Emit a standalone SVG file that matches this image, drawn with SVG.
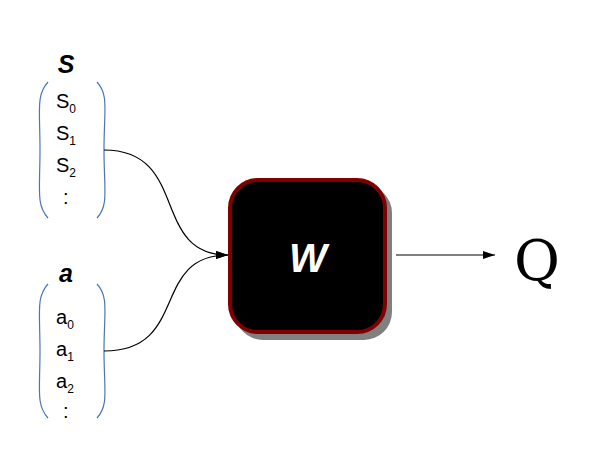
<svg xmlns="http://www.w3.org/2000/svg" width="604" height="451" viewBox="0 0 604 451">
<style>
.br{fill:none;stroke:#4a76b8;stroke-width:1.2}
.t{font-family:"Liberation Sans",sans-serif;font-size:20px;fill:#000}
.sub{font-size:12px}
.c{fill:none;stroke:#000;stroke-width:1.2}
</style>
<defs><marker id="ah" markerWidth="12" markerHeight="8" refX="12" refY="4" orient="auto" markerUnits="userSpaceOnUse"><path d="M0,0L12,4L0,8z" fill="#000"/></marker></defs>
<rect width="604" height="451" fill="#fff"/>
<g id="s">
<text x="66" y="73" text-anchor="middle" class="t" style="font-weight:bold;font-style:italic;font-size:25px">S</text>
<path class="br" d="M48,82 C36,95 40,110 40,150 C40,190 36,205 48,218"/>
<path class="br" d="M97,82 C109,95 104,110 104,150 C104,190 109,205 97,218"/>
<text class="t" x="56" y="108">S<tspan class="sub" dy="5">0</tspan></text>
<text class="t" x="56" y="140">S<tspan class="sub" dy="5">1</tspan></text>
<text class="t" x="56" y="172">S<tspan class="sub" dy="5">2</tspan></text>
<text class="t" x="63" y="204">:</text>
</g>
<g id="a">
<text x="66" y="282" text-anchor="middle" class="t" style="font-weight:bold;font-style:italic;font-size:25px">a</text>
<path class="br" d="M48,284 C36,297 40,312 40,351 C40,390 36,405 48,418"/>
<path class="br" d="M97,284 C109,297 104,312 104,351 C104,390 109,405 97,418"/>
<text class="t" x="56" y="324">a<tspan class="sub" dy="5">0</tspan></text>
<text class="t" x="56" y="356">a<tspan class="sub" dy="5">1</tspan></text>
<text class="t" x="56" y="388">a<tspan class="sub" dy="5">2</tspan></text>
<text class="t" x="63" y="418">:</text>
</g>
<g id="w">
<rect x="235" y="185" width="157" height="155" rx="28" fill="#808080"/>
<rect x="230" y="180" width="155" height="152" rx="28" fill="#000" stroke="#800000" stroke-width="4"/>
<text x="308" y="272" text-anchor="middle" style="font-family:'Liberation Sans',sans-serif;font-weight:bold;font-style:italic;font-size:40px" fill="#fff">W</text>
</g>
<g id="q">
<text x="537" y="280" text-anchor="middle" style="font-family:'DejaVu Serif','Liberation Serif',serif;font-size:56px">Q</text>
</g>
<g id="connectors">
<path class="c" d="M104,150 C190,150 150,255 228,255" marker-end="url(#ah)"/>
<path class="c" d="M104,351 C190,351 150,255 228,255" marker-end="url(#ah)"/>
<path class="c" d="M396,255 L495,255" marker-end="url(#ah)"/>
</g>
</svg>
